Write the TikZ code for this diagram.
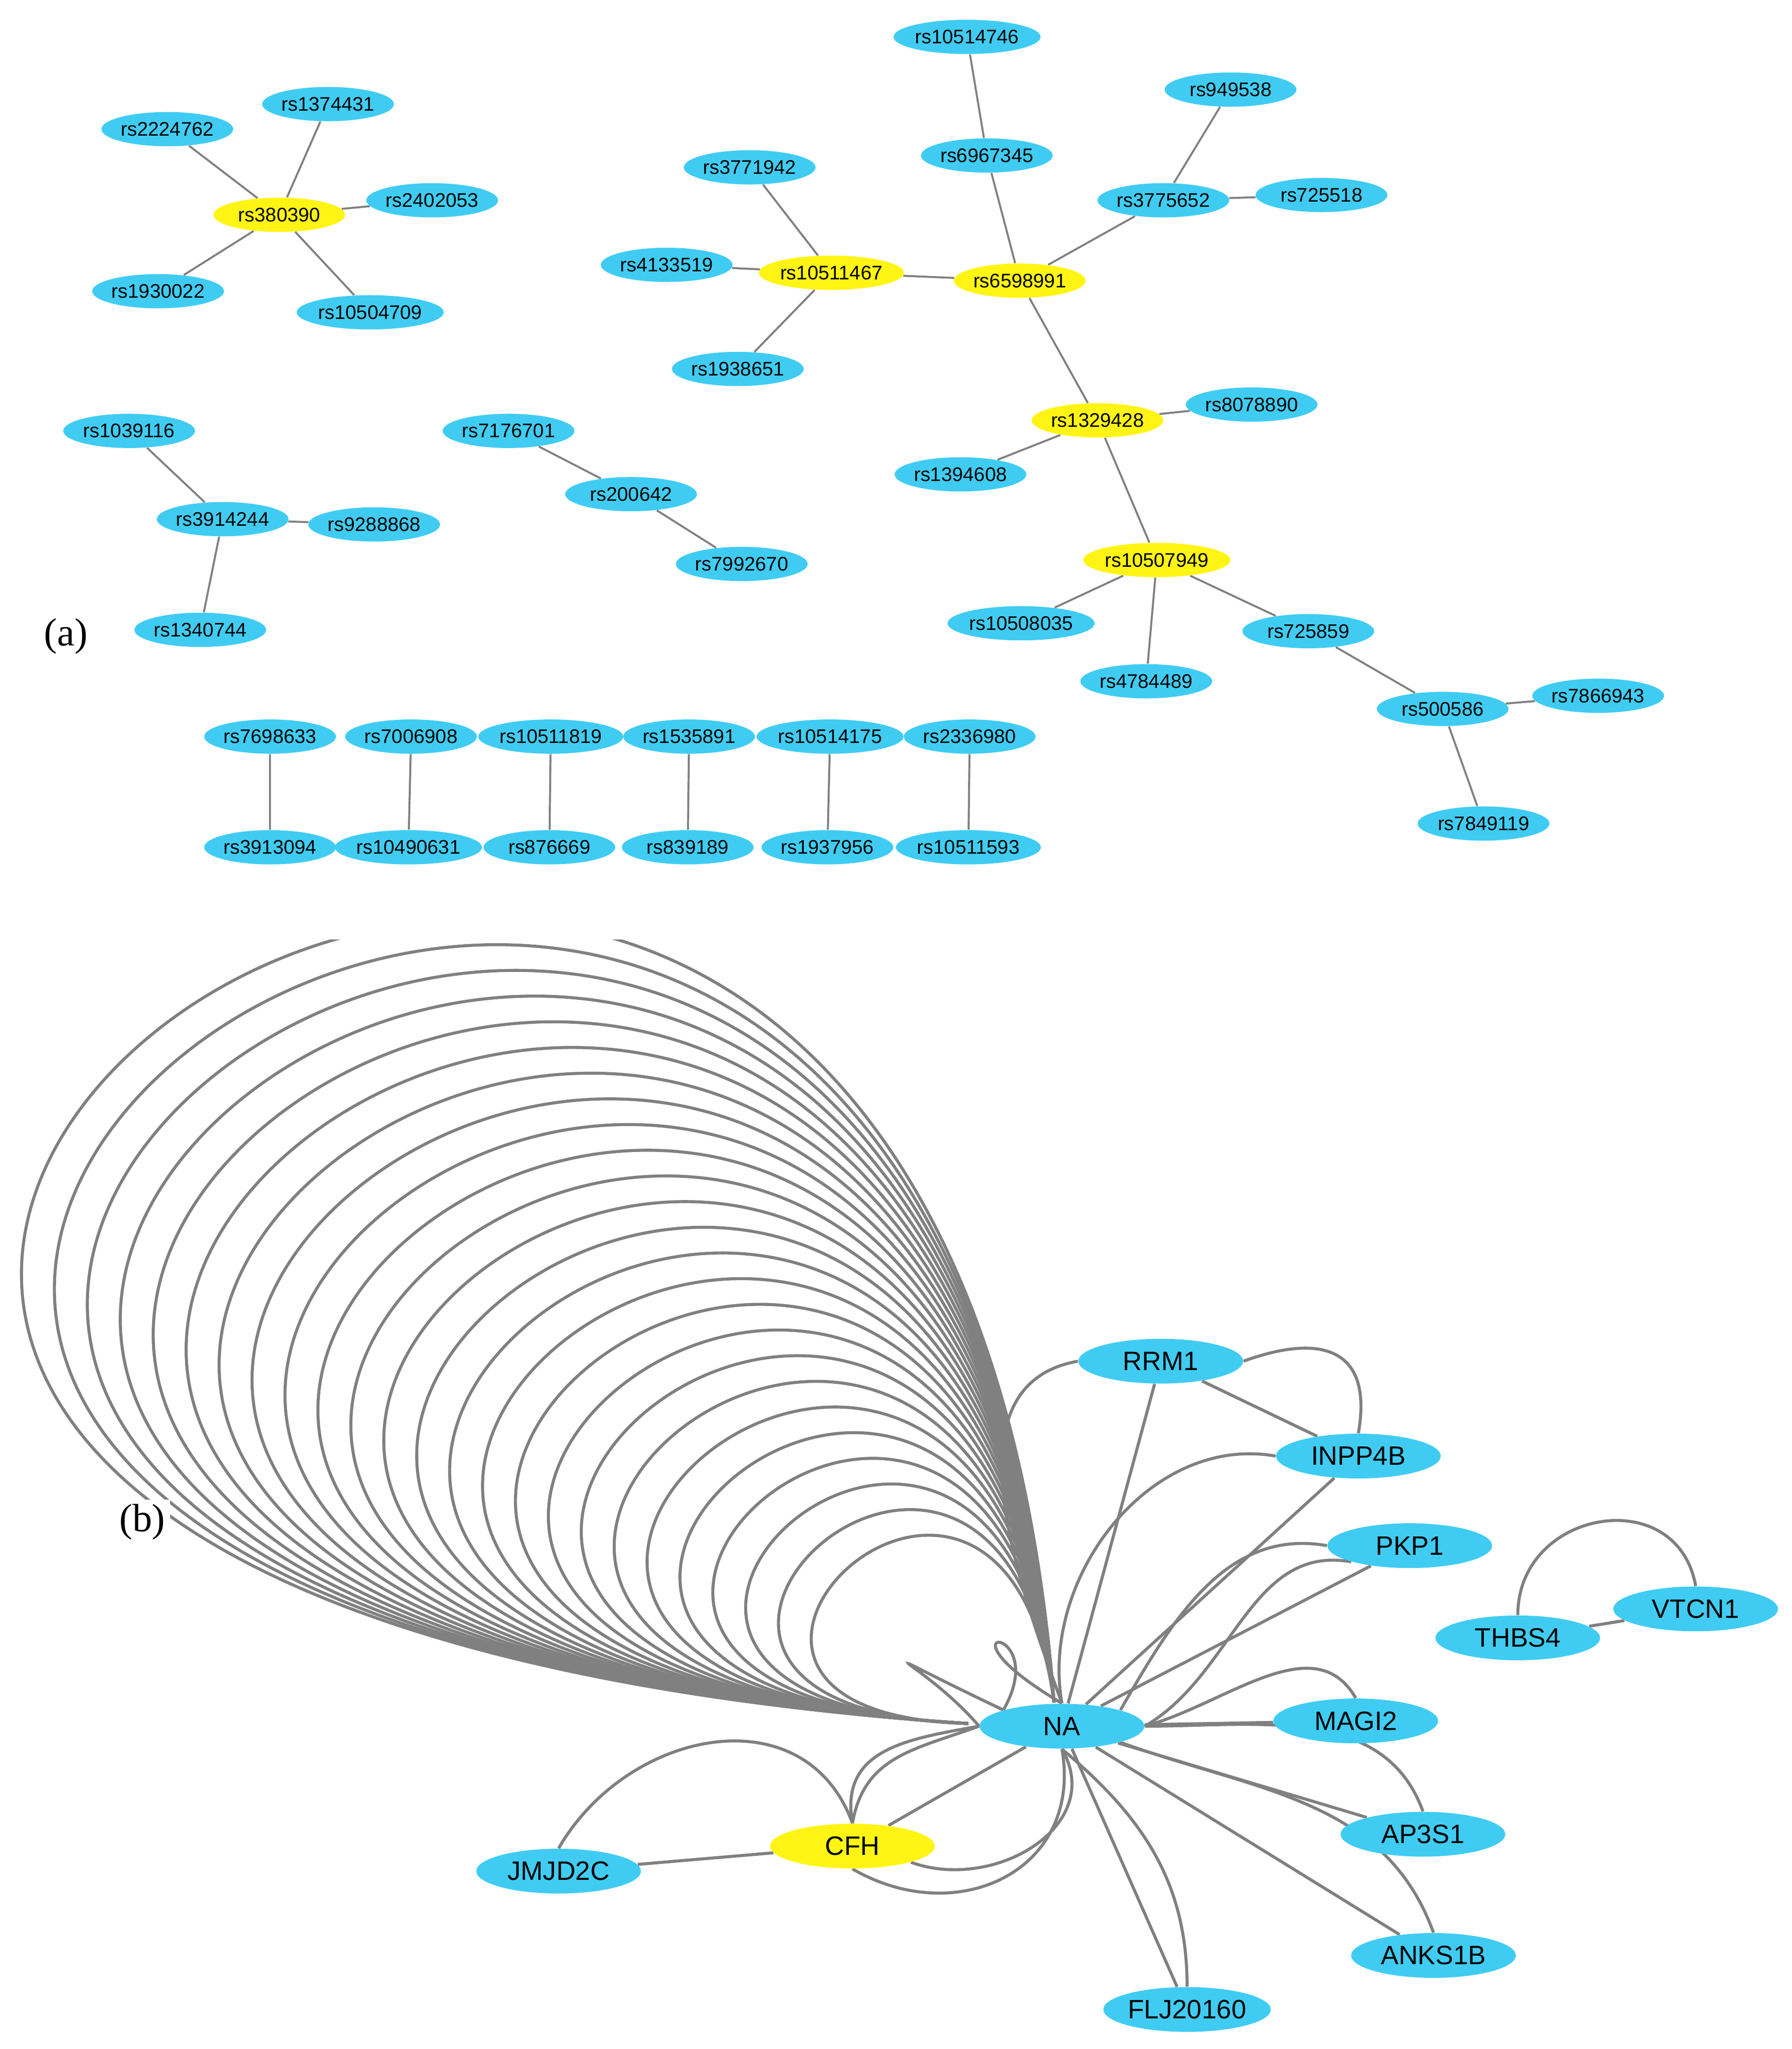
\documentclass[tikz,border=0pt]{standalone}
\usepackage{fontspec}
\setmainfont{Liberation Serif}
\newfontfamily\nodefont{Liberation Sans}
\usetikzlibrary{shapes.geometric,backgrounds}
\definecolor{nb}{RGB}{64,204,242}
\definecolor{ny}{RGB}{255,244,20}
\definecolor{eg}{RGB}{128,128,128}
\begin{document}
\begin{tikzpicture}[x=0.02cm,y=-0.02cm,
 sn/.style={ellipse,fill=nb,minimum width=2cm,minimum height=0.52cm,inner sep=0pt,font=\nodefont\fontsize{8.5}{9}\selectfont},
 sy/.style={sn,fill=ny},
 bn/.style={ellipse,fill=nb,minimum width=2.5cm,minimum height=0.68cm,inner sep=0pt,font=\nodefont\fontsize{11.5}{12}\selectfont},
 by/.style={bn,fill=ny},
 ea/.style={draw=eg,line width=0.85pt},
 eb/.style={draw=eg,line width=1.3pt},
 lab/.style={font=\fontsize{17}{18}\selectfont}]
\useasboundingbox (0,0) rectangle (1360,1555);
\node[sy] (a380390) at (212,163) {rs380390};
\node[sn] (a2224762) at (127,98) {rs2224762};
\node[sn] (a1374431) at (249,79) {rs1374431};
\node[sn] (a2402053) at (328,152) {rs2402053};
\node[sn] (a1930022) at (120,221) {rs1930022};
\node[sn] (a10504709) at (281,237) {rs10504709};
\node[sn] (a10514746) at (734,28) {rs10514746};
\node[sn] (a6967345) at (749,118) {rs6967345};
\node[sn] (a949538) at (934,68) {rs949538};
\node[sn] (a3775652) at (883,152) {rs3775652};
\node[sn] (a725518) at (1003,148) {rs725518};
\node[sn] (a3771942) at (569,127) {rs3771942};
\node[sn] (a4133519) at (506,201) {rs4133519};
\node[sy] (a10511467) at (631,207) {rs10511467};
\node[sy] (a6598991) at (774,213) {rs6598991};
\node[sn] (a1938651) at (560,280) {rs1938651};
\node[sy] (a1329428) at (833,319) {rs1329428};
\node[sn] (a8078890) at (950,307) {rs8078890};
\node[sn] (a1394608) at (729,360) {rs1394608};
\node[sy] (a10507949) at (878,425) {rs10507949};
\node[sn] (a10508035) at (775,473) {rs10508035};
\node[sn] (a4784489) at (870,517) {rs4784489};
\node[sn] (a725859) at (993,479) {rs725859};
\node[sn] (a500586) at (1095,538) {rs500586};
\node[sn] (a7866943) at (1213,528) {rs7866943};
\node[sn] (a7849119) at (1126,625) {rs7849119};
\node[sn] (a1039116) at (98,327) {rs1039116};
\node[sn] (a3914244) at (169,394) {rs3914244};
\node[sn] (a9288868) at (284,398) {rs9288868};
\node[sn] (a1340744) at (152,478) {rs1340744};
\node[sn] (a7176701) at (386,327) {rs7176701};
\node[sn] (a200642) at (479,375) {rs200642};
\node[sn] (a7992670) at (563,428) {rs7992670};
\node[sn] (t1) at (205,559) {rs7698633};
\node[sn] (t2) at (312,559) {rs7006908};
\node[sn] (t3) at (418,559) {rs10511819};
\node[sn] (t4) at (523,559) {rs1535891};
\node[sn] (t5) at (630,559) {rs10514175};
\node[sn] (t6) at (736,559) {rs2336980};
\node[sn] (b1) at (205,643) {rs3913094};
\node[sn] (b2) at (310,643) {rs10490631};
\node[sn] (b3) at (417,643) {rs876669};
\node[sn] (b4) at (522,643) {rs839189};
\node[sn] (b5) at (628,643) {rs1937956};
\node[sn] (b6) at (735,643) {rs10511593};
\begin{scope}[on background layer]
\foreach \a/\b in {a380390/a2224762,a380390/a1374431,a380390/a2402053,a380390/a1930022,a380390/a10504709,
 a10514746/a6967345,a6967345/a6598991,a949538/a3775652,a3775652/a725518,a3775652/a6598991,
 a10511467/a6598991,a10511467/a3771942,a10511467/a4133519,a10511467/a1938651,
 a6598991/a1329428,a1329428/a8078890,a1329428/a1394608,a1329428/a10507949,
 a10507949/a10508035,a10507949/a4784489,a10507949/a725859,a725859/a500586,a500586/a7866943,a500586/a7849119,
 a3914244/a1039116,a3914244/a9288868,a3914244/a1340744,a200642/a7176701,a200642/a7992670,
 t1/b1,t2/b2,t3/b3,t4/b4,t5/b5,t6/b6}
 \draw[ea] (\a) -- (\b);
\end{scope}
\node[lab] (la) at (50,483) {(a)};
% ---------- (b)
\coordinate (ls) at (735,1308);
\coordinate (le) at (800,1292);
\begin{scope}[on background layer]
\clip (0,713) rectangle (1360,1555);
\foreach \i in {0,...,24}
 \draw[eb] (ls) .. controls ({-870+\i*55},{1200+\i*4.2}) and ({700+\i*2.5},{\i*41.7}) .. (le);
\end{scope}
\node[lab,fill=white,inner sep=2pt] (lb) at (108,1155) {(b)};
\node[bn] (RRM1) at (881,1033) {RRM1};
\node[bn] (INPP4B) at (1031,1105) {INPP4B};
\node[bn] (PKP1) at (1070,1173) {PKP1};
\node[bn] (THBS4) at (1152,1243) {THBS4};
\node[bn] (VTCN1) at (1287,1221) {VTCN1};
\node[bn] (NA) at (806,1310) {NA};
\node[bn] (MAGI2) at (1029,1306) {MAGI2};
\node[bn] (AP3S1) at (1080,1392) {AP3S1};
\node[bn] (ANKS1B) at (1088,1484) {ANKS1B};
\node[bn] (FLJ) at (901,1525) {FLJ20160};
\node[by] (CFH) at (647,1401) {CFH};
\node[bn] (JMJ) at (424,1420) {JMJD2C};
\begin{scope}[on background layer]
\foreach \t in {RRM1,INPP4B,PKP1,MAGI2,AP3S1,ANKS1B,FLJ,CFH}
 \draw[eb] (NA) -- (\t);
\draw[eb] (RRM1) -- (INPP4B);
\draw[eb] (THBS4) -- (VTCN1);
\draw[eb] (CFH) -- (JMJ);
\draw[eb] (RRM1.east) to[out=20,in=80,looseness=1.6] (INPP4B.north);
\draw[eb] (NA.north) to[out=110,in=190] (RRM1.west);
\draw[eb] (NA.north) to[out=100,in=170] (INPP4B.west);
\draw[eb] (NA.north east) to[out=60,in=170] (PKP1.west);
\draw[eb] (NA.east) to[out=30,in=170] (PKP1.south west);
\draw[eb] (NA.east) to[out=15,in=120] (MAGI2.north);
\draw[eb] (NA.east) to[out=0,in=110] (AP3S1.north);
\draw[eb] (NA.south east) to[out=-20,in=110] (ANKS1B.north);
\draw[eb] (NA.south) to[out=-40,in=90] (FLJ.north);
\draw[eb] (THBS4.north) to[out=90,in=100,looseness=1.5] (VTCN1.north);
\draw[eb] (JMJ.north) to[out=60,in=110,looseness=1.2] (CFH.north);
\draw[eb] (CFH.south) to[out=-30,in=-80,looseness=1.3] (NA.south);
\draw[eb] (CFH.south east) to[out=-20,in=-60,looseness=1.2] (NA.south);
\draw[eb] (CFH.north) to[out=100,in=190,looseness=1.2] (NA.west);
\draw[eb] (CFH.north) to[out=80,in=200,looseness=1.1] (NA.west);
\draw[eb] (NA.north west) .. controls (640,1240) and (700,1260) .. (NA.west);
\draw[eb] (NA.north) .. controls (700,1230) and (800,1230) .. (NA.north west);
\end{scope}
\end{tikzpicture}
\end{document}
